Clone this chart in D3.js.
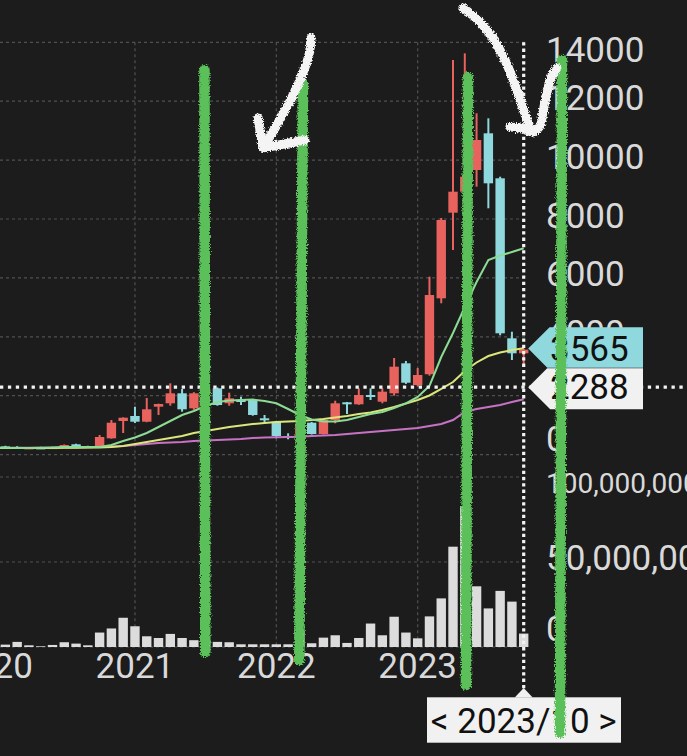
<!DOCTYPE html>
<html><head><meta charset="utf-8">
<script src="https://cdn.jsdelivr.net/npm/d3@7"></script>
<style>
html,body{margin:0;padding:0;background:#1c1c1c;overflow:hidden;}
svg{display:block;}
text{font-family:Roboto,"Noto Sans",sans-serif;}
</style></head><body>
<svg id="c" width="687" height="756"></svg>
<script>
// ---------- DATA ----------
const months = ["2020/01","2020/02","2020/03","2020/04","2020/05","2020/06","2020/07","2020/08","2020/09","2020/10","2020/11","2020/12",
"2021/01","2021/02","2021/03","2021/04","2021/05","2021/06","2021/07","2021/08","2021/09","2021/10","2021/11","2021/12",
"2022/01","2022/02","2022/03","2022/04","2022/05","2022/06","2022/07","2022/08","2022/09","2022/10","2022/11","2022/12",
"2023/01","2023/02","2023/03","2023/04","2023/05","2023/06","2023/07","2023/08","2023/09","2023/10"];
const openP  = [235,280,260,225,245,228,258,350,262,275,553,1141,1311,1117,1626,1742,2081,1572,2081,2251,1742,1854,1854,1233,1117,632,608,1083,699,1175,1776,1708,2024,1796,2081,3100,2363,2730,5307,8214,8927,9664,10910,9382,3949,3440];
const highP  = [265,300,290,255,265,275,345,370,305,666,1175,1265,1626,1922,1730,2421,2228,2120,2330,2280,2102,1966,1890,1345,1140,723,1060,1110,1210,1830,1785,2251,2251,2251,3280,3180,2941,6041,8034,13399,13626,11589,11419,9436,4173,3600];
const lowP   = [210,220,200,210,215,220,245,250,240,265,540,733,1073,1100,1345,1660,1457,1520,1970,1660,1660,1684,1320,1073,553,520,590,680,680,1063,1379,1690,1854,1742,2000,2400,2320,2680,5138,6947,8600,9097,8363,4050,3212,2985];
const closeP = [245,230,225,245,228,255,326,262,285,598,1083,1253,1117,1538,1718,2081,1538,2081,2217,1684,1912,1796,1345,1175,632,574,1005,699,1175,1742,1708,2024,1966,2136,2985,2441,2703,5419,7966,8927,9436,10683,9212,4119,3440,3565];
const volume = [1.5e6,1.4e6,3.0e6,1.0e6,0.4e6,1.2e6,2.8e6,2.0e6,1.0e6,8.5e6,10.9e6,17.2e6,12.2e6,6.3e6,5.3e6,7.7e6,5.3e6,4.0e6,4.0e6,3.0e6,2.8e6,1.6e6,1.6e6,1.6e6,1.6e6,1.6e6,9.0e6,2.2e6,5.5e6,6.9e6,2.4e6,5.3e6,13.8e6,6.9e6,17.8e6,8.5e6,5.1e6,18.0e6,28.6e6,59.0e6,82.9e6,35.7e6,22.7e6,33.0e6,26.7e6,7.9e6];
const maShort = [230,232,228,226,230,240,255,262,260,258,326,462,581,733,937,1141,1345,1481,1651,1786,1837,1854,1871,1820,1742,1549,1345,1192,1124,1124,1175,1277,1379,1447,1582,1740,1960,2330,3314,4129,5012,5861,6608,6760,6879,7005];
const maMid   = [228,228,226,226,226,228,232,236,238,240,258,292,360,427,496,564,631,733,801,870,937,988,1039,1073,1107,1124,1141,1175,1209,1260,1311,1379,1429,1514,1616,1735,1854,2007,2228,2465,2839,3128,3348,3467,3552,3610];
const maLong  = [225,228,230,232,234,236,240,245,250,258,275,292,326,360,394,411,427,462,479,496,513,529,564,581,588,598,608,631,649,666,699,733,768,801,835,870,903,971,1039,1175,1447,1549,1616,1684,1786,1878];
const priceTicks = [0,2000,4000,6000,8000,10000,12000,14000];
const volumeTicks = [0,50000000,100000000];
const yearTicks = ["2020/01","2021/01","2022/01","2023/01"];
const lastPrice = 3565;
const crossPrice = 2288;
const crossMonth = "2023/10";
// hand-drawn annotations, in (month position, price) terms
const greenMarks = [
  [[17.90,13060],[17.97,-6703]],
  [[26.26,12618],[25.95,-6974]],
  [[40.27,12822],[40.10,-7827]],
  [[48.25,13399],[48.08,-9446]]
];
const arrowLeftShaft = [[26.94,14146],[26.77,13569],[26.01,12720],[24.99,11871],[23.89,11090],[22.87,10411]];
const arrowLeftHead  = [[22.44,11429],[22.87,10411],[26.43,10683]];
const arrowRightShaft = [[39.84,15165],[41.29,14689],[42.48,14079],[43.49,13331],[44.26,12550],[44.85,11871],[45.28,11361],[45.53,11090]];
const arrowRightHook  = [[43.83,11124],[44.68,11090],[45.79,10954],[46.38,11158],[46.64,11633],[46.89,12142],[47.31,12788],[47.82,13127]];

// ---------- SCALES ----------
const svg = d3.select("#c");
const W = 687, H = 756;
const plotRight = 525;
const x = d3.scalePoint().domain(months).range([-6.4, 523.7]);
const xAt = f => x(months[0]) + f * x.step();
const yP = d3.scaleLinear().domain([0,14000]).range([454.6,42.3]);
const yV = d3.scaleLinear().domain([0,100000000]).range([647,477]);

const UP = "#e8625e", DOWN = "#8fd8dd";
const data = months.map((m,i)=>({m,o:openP[i],h:highP[i],l:lowP[i],c:closeP[i],v:volume[i]}));

svg.append("rect").attr("width",W).attr("height",H).attr("fill","#1c1c1c");

// defs
const defs = svg.append("defs");
function roughFilter(id, freq, scale, seed){
  const f = defs.append("filter").attr("id",id).attr("filterUnits","userSpaceOnUse")
    .attr("x",0).attr("y",0).attr("width",W).attr("height",H);
  f.append("feTurbulence").attr("type","fractalNoise").attr("baseFrequency",freq).attr("numOctaves",3).attr("seed",seed).attr("result","n");
  f.append("feDisplacementMap").attr("in","SourceGraphic").attr("in2","n").attr("scale",scale).attr("xChannelSelector","R").attr("yChannelSelector","G");
}
roughFilter("roughG","0.9",5,3);
roughFilter("roughW","0.8",5,7);

// ---------- GRID ----------
const grid = svg.append("g").attr("stroke","#505050").attr("stroke-width",1.2).attr("stroke-dasharray","3,3");
grid.selectAll(".hp").data(priceTicks).join("line")
  .attr("x1",0).attr("x2",plotRight).attr("y1",d=>yP(d)).attr("y2",d=>yP(d));
grid.selectAll(".hv").data(volumeTicks).join("line").attr("class","hv")
  .attr("x1",0).attr("x2",plotRight).attr("y1",d=>yV(d)).attr("y2",d=>yV(d));
grid.selectAll(".vg").data(yearTicks).join("line").attr("class","vg")
  .attr("x1",d=>x(d)).attr("x2",d=>x(d)).attr("y1",yP(14000)).attr("y2",yV(0));

// ---------- VOLUME ----------
const bw = 9.4;
svg.append("g").selectAll("rect").data(data).join("rect")
  .attr("x",d=>x(d.m)-bw/2).attr("width",bw)
  .attr("y",d=>yV(d.v)).attr("height",d=>yV(0)-yV(d.v))
  .attr("fill","#dcdcdc");

// ---------- CANDLES ----------
const cg = svg.append("g");
cg.selectAll(".wick").data(data).join("line")
  .attr("x1",d=>x(d.m)).attr("x2",d=>x(d.m))
  .attr("y1",d=>yP(d.h)).attr("y2",d=>yP(d.l))
  .attr("stroke",d=>d.c>=d.o?UP:DOWN).attr("stroke-width",2);
cg.selectAll(".body").data(data).join("rect")
  .attr("x",d=>x(d.m)-bw/2).attr("width",bw)
  .attr("y",d=>yP(Math.max(d.o,d.c)))
  .attr("height",d=>Math.max(2,Math.abs(yP(d.o)-yP(d.c))))
  .attr("fill",d=>d.c>=d.o?UP:DOWN);

// ---------- MOVING AVERAGES ----------
const lineGen = arr => d3.line().x((d,i)=>x(months[i])).y(d=>yP(d))(arr);
[[maLong,"#c872c4"],[maMid,"#dbe77a"],[maShort,"#8ddc94"]].forEach(([arr,col])=>{
  svg.append("path").attr("d",lineGen(arr)).attr("fill","none").attr("stroke",col).attr("stroke-width",2);
});

// ---------- CROSSHAIR ----------
svg.append("line").attr("x1",0).attr("x2",W).attr("y1",yP(crossPrice)).attr("y2",yP(crossPrice))
  .attr("stroke","#f2f2f2").attr("stroke-width",3.2).attr("stroke-dasharray","3.3,4.6");
svg.append("line").attr("x1",x(crossMonth)).attr("x2",x(crossMonth)).attr("y1",yP(14000)).attr("y2",690)
  .attr("stroke","#f2f2f2").attr("stroke-width",3.2).attr("stroke-dasharray","3.3,3");

// ---------- AXIS LABELS ----------
const lblX = 546;
svg.append("g").selectAll("text").data(priceTicks).join("text")
  .attr("x",lblX).attr("y",d=>Math.max(50,Math.min(439,yP(d)-3)))
  .attr("dominant-baseline","central").attr("fill","#d9d9d9").attr("font-size",35)
  .text(d=>d);
svg.append("g").selectAll("text").data(volumeTicks).join("text")
  .attr("x",lblX).attr("y",d=>Math.max(483,Math.min(629.5,yV(d)-3.5)))
  .attr("dominant-baseline","central").attr("fill","#d9d9d9")
  .attr("font-size",d=>d===100000000?28:35)
  .text(d=>d3.format(",")(d));
svg.append("g").selectAll("text").data(yearTicks).join("text")
  .attr("x",d=>x(d)).attr("y",666).attr("text-anchor","middle").attr("dominant-baseline","central")
  .attr("fill","#d9d9d9").attr("font-size",35).text(d=>d.slice(0,4));

// ---------- PRICE TAGS ----------
const tipX = x(crossMonth)+4.5, boxR = 643;
function tag(yc, top, bot, fill, txt, ty){
  const pts = [[tipX,yc],[tipX+(yc-top),top],[boxR,top],[boxR,bot],[tipX+(bot-yc),bot]];
  svg.append("polygon").attr("points",pts.map(p=>p.join(",")).join(" ")).attr("fill",fill);
  svg.append("text").attr("x",550).attr("y",ty).attr("dominant-baseline","central")
    .attr("fill","#111").attr("font-size",35).text(txt);
}
const yl = yP(lastPrice), yc2 = yP(crossPrice);
tag(yc2, yc2-19, yc2+22, "#f1f1f1", crossPrice, yc2+0.5);
tag(yl-1, yc2-60, yc2-19.5, DOWN, lastPrice, yl);
// date tag
const dx = x(crossMonth);
svg.append("polygon").attr("points",[[dx-9,697.5],[dx,688],[dx+9,697.5]].map(p=>p.join(",")).join(" ")).attr("fill","#f1f1f1");
svg.append("rect").attr("x",427).attr("y",697.3).attr("width",194).attr("height",45.4).attr("fill","#f1f1f1");
svg.append("text").attr("x",dx).attr("y",721).attr("text-anchor","middle").attr("dominant-baseline","central")
  .attr("fill","#111").attr("font-size",35).text("< " + crossMonth + " >");

// ---------- HAND-DRAWN ANNOTATIONS ----------
const ann = svg.append("g");
greenMarks.forEach(([a,b])=>{
  ann.append("line").attr("x1",xAt(a[0])).attr("y1",yP(a[1])).attr("x2",xAt(b[0])).attr("y2",yP(b[1]))
    .attr("stroke","#5cc05a").attr("stroke-width",10.5).attr("stroke-linecap","round").attr("filter","url(#roughG)");
});
const pl = d3.line().x(d=>xAt(d[0])).y(d=>yP(d[1])).curve(d3.curveCatmullRom);
const plL = d3.line().x(d=>xAt(d[0])).y(d=>yP(d[1]));
[[arrowLeftShaft,pl],[arrowLeftHead,plL],[arrowRightShaft,pl],[arrowRightHook,pl]].forEach(([pts,g])=>{
  ann.append("path").attr("d",g(pts)).attr("fill","none").attr("stroke","#f4f4f4")
    .attr("stroke-width",9).attr("stroke-linecap","round").attr("stroke-linejoin","round").attr("filter","url(#roughW)");
});
</script>
</body></html>
